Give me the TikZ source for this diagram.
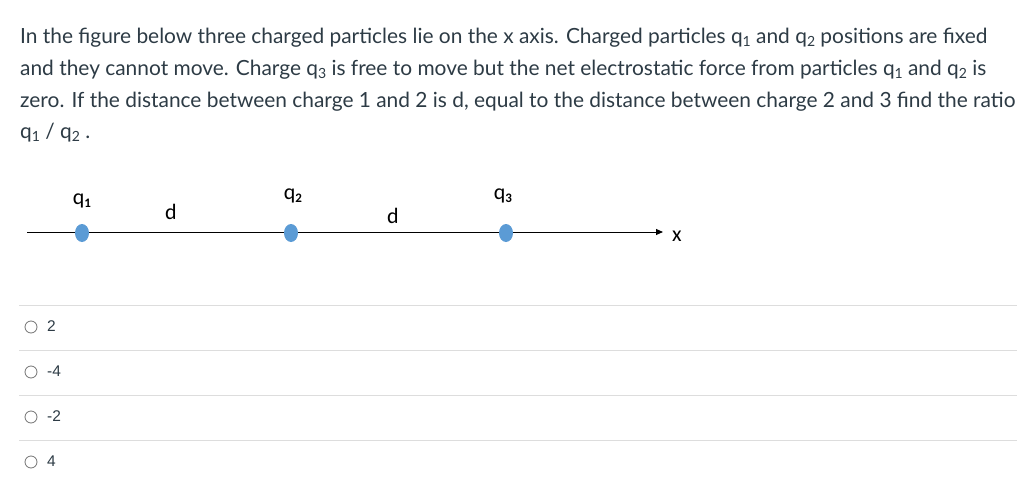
\documentclass[tikz,border=0pt]{standalone}
\usepackage{fontspec}
\setmainfont{Lato}
\newfontfamily\optfont{Liberation Sans}
\newfontfamily\figfont{Carlito}
\usetikzlibrary{arrows.meta}
\definecolor{txt}{HTML}{2D3B45}
\definecolor{dotblue}{HTML}{5B9BD5}
\definecolor{sepgray}{HTML}{DDDDDD}
\newcommand{\sub}[1]{\raisebox{-3.5pt}{\fontsize{14}{14}\selectfont #1}}
\newcommand{\fsub}[1]{\raisebox{-3pt}{\fontsize{13}{13}\selectfont\bfseries #1}}
\tikzset{
  qline/.style={anchor=base west, inner sep=0pt, text=txt, font=\fontsize{20.9}{21}\selectfont},
  charge/.style={ellipse, fill=dotblue, minimum width=14pt, minimum height=18pt, inner sep=0pt},
  flabel/.style={inner sep=0pt, font=\figfont\fontsize{22}{22}\selectfont},
  radio/.style={circle, draw=black!55, line width=0.8pt, minimum size=12pt, inner sep=0pt},
  opt/.style={anchor=west, inner sep=0pt, text=txt, font=\optfont\fontsize{15.5}{15.5}\selectfont},
  sep/.style={draw=sepgray, line width=0.8pt}
}
\usetikzlibrary{shapes.geometric}
\begin{document}
\begin{tikzpicture}[x=1pt,y=-1pt]
\useasboundingbox (0,0) rectangle (1029,490);
\fill[white] (0,0) rectangle (1029,490);
% question text
\node[qline] (l1) at (20,43) {In the figure below three charged particles lie on the x axis. Charged particles q\sub{1} and q\sub{2} positions are fixed};
\node[qline] (l2) at (20,75) {and they cannot move. Charge q\sub{3} is free to move but the net electrostatic force from particles q\sub{1} and q\sub{2} is};
\node[qline] (l3) at (20,107) {zero. If the distance between charge 1 and 2 is d, equal to the distance between charge 2 and 3 find the ratio};
\node[qline] (l4) at (20,138) {q\sub{1} / q\sub{2} .};
% figure
\coordinate (a0) at (27,232);
\coordinate (a1) at (663,232);
\draw[line width=1pt, -{Triangle[length=7pt,width=6pt]}] (a0) -- (a1);
\node[flabel, anchor=west] (xl) at (672,236) {x};
\node[charge] (q1) at (82,233) {};
\node[charge] (q2) at (291,233) {};
\node[charge] (q3) at (506,233) {};
\node[flabel] (lq1) at (82,201) {q\fsub{1}};
\node[flabel] (lq2) at (293,196) {q\fsub{2}};
\node[flabel] (lq3) at (503,196) {q\fsub{3}};
\node[flabel] (d1) at (171,212) {d};
\node[flabel] (d2) at (393,216) {d};
% options
\coordinate (s0a) at (19,305); \coordinate (s0b) at (1017,305);
\coordinate (s1a) at (19,350); \coordinate (s1b) at (1017,350);
\coordinate (s2a) at (19,395); \coordinate (s2b) at (1017,395);
\coordinate (s3a) at (19,440); \coordinate (s3b) at (1017,440);
\draw[sep] (s0a) -- (s0b);
\draw[sep] (s1a) -- (s1b);
\draw[sep] (s2a) -- (s2b);
\draw[sep] (s3a) -- (s3b);
\node[radio] (r1) at (31,327) {};
\node[radio] (r2) at (31,372) {};
\node[radio] (r3) at (31,417) {};
\node[radio] (r4) at (31,462) {};
\node[opt] (o1) at (47,326) {2};
\node[opt] (o2) at (47,371) {-4};
\node[opt] (o3) at (47,416) {-2};
\node[opt] (o4) at (47,461) {4};
\end{tikzpicture}
\end{document}
